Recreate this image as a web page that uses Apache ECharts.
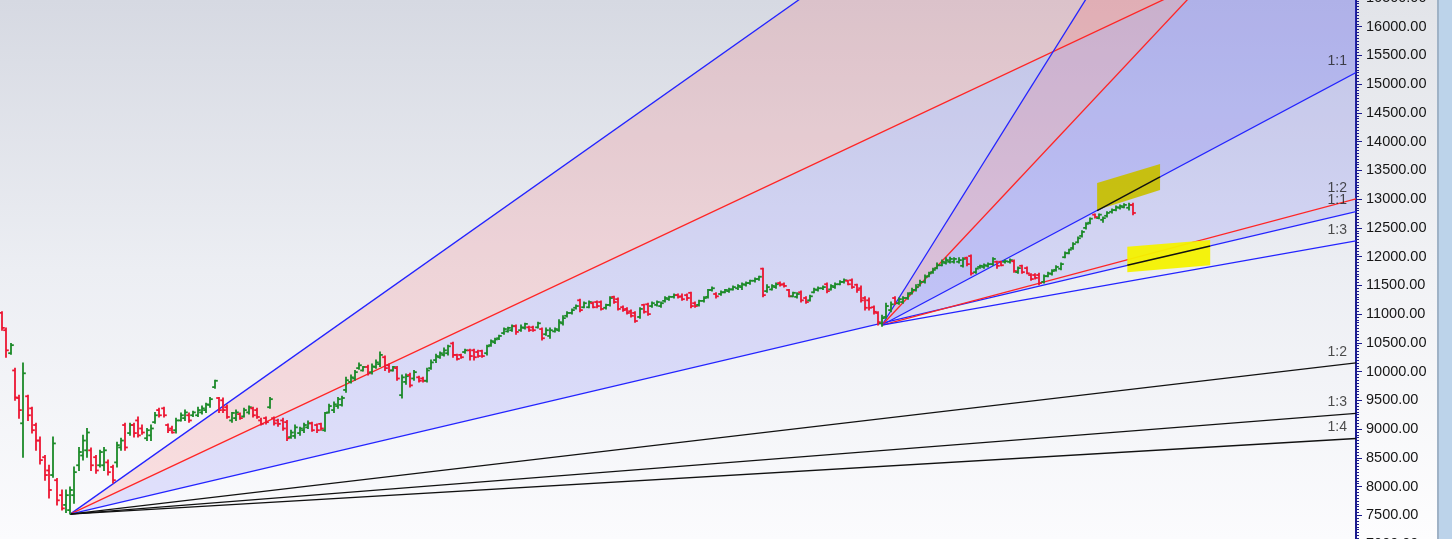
<!DOCTYPE html>
<html><head><meta charset="utf-8">
<script src="https://cdn.jsdelivr.net/npm/echarts@6/dist/echarts.min.js"></script>
<style>html,body{margin:0;padding:0;background:#fff}#c{width:1452px;height:539px}</style>
</head><body><div id="c"></div>
<script>
// ---- OHLC data (one value per trading bar) ----
const barOpen = [
11020,10720,10320,10020,9540,9100,9570,9360,9070,8800,
8510,8280,8200,8110,7850,7680,7590,7850,8370,8540,
8630,8630,8510,8370,8370,8420,8340,8420,8680,9070,
8930,9070,9150,9010,8840,8890,9120,9330,9360,9070,
9010,8980,9150,9190,9240,9240,9240,9290,9330,9420,
9730,9540,9500,9380,9150,9190,9260,9220,9290,9360,
9330,9150,9190,9380,9190,9150,9150,9120,8860,8880,
8930,8980,9030,9100,9070,9090,8980,9290,9330,9400,
9420,9680,9820,9880,10060,10020,10080,9990,10080,10130,
10250,10110,10020,10060,9590,9820,9940,9880,9900,9880,
9840,10060,10200,10250,10290,10320,10490,10290,10290,10340,
10370,10370,10340,10360,10320,10460,10510,10580,10670,10700,
10720,10790,10720,10760,10770,10770,10770,10740,10650,10620,
10700,10720,10840,10970,11020,11110,11240,11120,11120,11190,
11210,11210,11110,11160,11300,11260,11120,11090,11050,11020,
10950,11160,11170,11140,11160,11140,11230,11260,11300,11330,
11310,11330,11370,11190,11160,11230,11300,11420,11350,11350,
11380,11400,11430,11450,11470,11510,11540,11580,11610,11790,
11400,11430,11470,11540,11520,11420,11310,11300,11380,11280,
11240,11380,11420,11450,11520,11430,11470,11520,11560,11580,
11590,11510,11450,11280,11240,11120,11020,10840,10950,11070,
11280,11190,11210,11280,11370,11420,11510,11560,11660,11730,
11800,11850,11890,11910,11910,11910,11840,11980,12010,11730,
11820,11820,11840,11870,11910,11910,11910,11910,11920,11730,
11840,11800,11680,11680,11680,11560,11660,11700,11770,11790,
11990,12060,12150,12250,12360,12500,12590,12730,12670,12640,
12710,12780,12810,12850,12860,12850,12900];
const barHigh = [
11040,10760,10490,10060,9590,10150,9590,9380,9100,8860,
8540,8370,8860,8140,7940,7940,7990,8340,8680,8890,
9010,8670,8540,8630,8680,8460,8370,8770,8840,9100,
9100,9100,9210,9070,9010,9070,9290,9360,9380,9090,
9050,9190,9280,9330,9280,9310,9380,9400,9450,9550,
9850,9550,9540,9420,9290,9330,9280,9360,9400,9380,
9360,9190,9210,9550,9210,9170,9190,9150,8980,9070,
9030,9100,9140,9120,9090,9100,9290,9430,9470,9550,
9570,9900,9940,10020,10150,10090,10110,10130,10200,10340,
10270,10130,10090,10090,9940,9960,9970,10020,9920,9900,
10060,10200,10300,10340,10410,10460,10510,10300,10300,10390,
10390,10390,10370,10370,10460,10550,10580,10630,10760,10770,
10810,10810,10810,10840,10790,10790,10860,10760,10760,10760,
10760,10900,10970,11040,11090,11160,11260,11210,11230,11210,
11230,11230,11170,11300,11310,11280,11140,11110,11070,11040,
11110,11170,11190,11210,11230,11210,11300,11310,11350,11350,
11350,11350,11380,11210,11240,11300,11430,11470,11370,11400,
11430,11450,11490,11510,11540,11560,11590,11630,11660,11800,
11510,11510,11540,11560,11540,11430,11380,11370,11400,11300,
11330,11450,11470,11490,11540,11510,11540,11580,11610,11590,
11610,11520,11490,11300,11280,11140,11040,10980,11190,11210,
11300,11280,11300,11370,11450,11510,11590,11680,11730,11800,
11890,11940,11980,11990,11980,11980,11980,11990,12030,11800,
11850,11870,11890,11980,11920,11920,11940,11960,11940,11820,
11850,11820,11700,11700,11710,11680,11730,11770,11840,11890,
12080,12130,12240,12340,12450,12590,12670,12740,12740,12690,
12780,12830,12880,12900,12920,12930,12930];
const barLow = [
10720,10250,10300,9500,9190,8510,9150,8930,8630,8390,
8110,7800,8160,7680,7590,7550,7520,7710,8280,8460,
8510,8280,8230,8340,8280,8200,8060,8340,8630,8630,
8890,8860,8860,8910,8800,8800,9100,9210,9210,8940,
8930,8930,9140,9150,9120,9220,9220,9260,9290,9380,
9710,9290,9290,9190,9120,9150,9170,9210,9260,9210,
9190,9070,9090,9360,9070,9050,8980,8800,8840,8840,
8890,8940,9010,8960,8940,8980,8960,9280,9290,9360,
9400,9640,9800,9850,10040,10010,9940,9960,10060,10090,
10020,9990,10010,9850,9540,9780,9730,9850,9820,9820,
9820,10040,10160,10230,10270,10290,10250,10200,10230,10320,
10200,10200,10250,10250,10290,10440,10490,10560,10650,10690,
10700,10650,10700,10740,10700,10700,10760,10550,10630,10580,
10690,10700,10810,10950,11000,11090,11040,11110,11110,11110,
11110,11070,11090,11140,11190,11070,11050,11000,10950,10860,
10930,11020,10980,11120,11140,11120,11210,11240,11280,11280,
11240,11240,11110,11120,11140,11210,11280,11400,11280,11330,
11370,11380,11420,11430,11430,11490,11520,11560,11590,11300,
11380,11420,11450,11490,11470,11300,11300,11280,11210,11190,
11230,11370,11400,11430,11370,11420,11450,11510,11540,11510,
11450,11380,11210,11070,11070,11000,10810,10790,10930,11040,
11170,11170,11190,11260,11350,11400,11490,11540,11650,11710,
11790,11840,11870,11890,11890,11890,11820,11840,11680,11710,
11800,11800,11820,11850,11800,11840,11890,11890,11730,11710,
11710,11700,11590,11610,11510,11540,11650,11680,11750,11770,
11980,12050,12130,12240,12340,12480,12570,12670,12660,12600,
12690,12760,12800,12830,12850,12810,12730];
const barClose = [
10760,10370,10460,9550,9330,9970,9240,8980,8800,8460,
8200,7940,8750,7760,7620,7850,7940,8250,8600,8800,
8940,8370,8280,8600,8630,8250,8110,8720,8800,8680,
9070,8930,8890,8940,8980,9010,9240,9240,9240,8980,
8940,9150,9240,9290,9150,9290,9330,9360,9430,9520,
9840,9330,9330,9210,9280,9290,9190,9330,9380,9240,
9210,9090,9120,9520,9100,9090,9010,8840,8940,9030,
9010,9070,9100,8980,8980,9010,9280,9400,9430,9520,
9540,9850,9900,9990,10110,10080,9970,10090,10160,10290,
10060,10020,10080,9880,9900,9920,9760,9990,9840,9840,
10020,10160,10270,10320,10370,10440,10290,10220,10250,10370,
10270,10250,10270,10270,10440,10530,10560,10620,10740,10760,
10790,10690,10770,10830,10720,10720,10840,10580,10720,10720,
10740,10860,10930,11020,11070,11140,11070,11190,11210,11120,
11140,11090,11160,11280,11210,11090,11070,11020,10970,10880,
11090,11040,11000,11190,11210,11190,11280,11300,11330,11300,
11260,11280,11140,11140,11230,11280,11420,11450,11310,11380,
11420,11430,11470,11490,11520,11540,11580,11610,11650,11330,
11470,11490,11520,11510,11490,11310,11370,11350,11240,11210,
11310,11430,11450,11470,11400,11490,11520,11560,11590,11520,
11470,11420,11240,11110,11110,11040,10860,10930,11140,11170,
11190,11260,11280,11350,11420,11470,11560,11650,11710,11770,
11850,11910,11940,11960,11960,11940,11960,11870,11710,11790,
11840,11850,11870,11960,11840,11850,11920,11940,11750,11800,
11730,11710,11610,11630,11540,11660,11710,11750,11820,11870,
12060,12120,12220,12320,12430,12570,12660,12690,12730,12670,
12760,12810,12860,12880,12900,12900,12760];

// ---- price axis ----
const priceMin = 7000;
const priceMax = 16500;
const priceStep = 500;

// ---- Gann fans: origin [bar, price], 1x1 unit (price per bar), ratios, labels ----
const fan1Origin = [16, 7520];
const fan1Unit = 17.4;
const fan1Ratios = [3, 2, 1, 1/2, 1/3, 1/4];
const fan1Labels = ['', '', '1:1', '1:2', '1:3', '1:4'];
const fan2Origin = [207, 10810];
const fan2Unit = 39.4;
const fan2Ratios = [3, 2, 1, 1/2, 1/3];
const fan2Labels = ['', '', '1:1', '1:2', '1:3'];

// ---- hand-drawn highlight marks [bar, price] ----
const highlightUpper = [[257.6, 13280], [272.4, 13610], [272.4, 13160], [257.6, 12810]];
const highlightLower = [[264.7, 12170], [284.2, 12290], [284.2, 11850], [264.7, 11730]];
const penUpper = [[257.6, 12800], [272.4, 13387]];
const penLower = [[264.7, 11850], [284.2, 12185]];

// ================= rendering =================
const X_MIN = -0.5, X_MAX = 318.5;
const BLUE = '#2323ff', RED = '#ff2525', BLACK = '#111111';
const GREEN_BAR = '#1b8a28', RED_BAR = '#ec1632';
const PINK_FILL = 'rgba(255,60,60,0.14)', BLUE_FILL = 'rgba(60,60,255,0.135)';
const fan1Colors = [BLUE, RED, BLUE, BLACK, BLACK, BLACK];
const fan2Colors = [BLUE, RED, BLUE, RED, BLUE];

const fans = [
  {o: fan1Origin, u: fan1Unit, r: fan1Ratios, l: fan1Labels, c: fan1Colors},
  {o: fan2Origin, u: fan2Unit, r: fan2Ratios, l: fan2Labels, c: fan2Colors}
];

const lineData = [], lineColors = [], fillData = [], fillColors = [], labelData = [];
fans.forEach(f => {
  f.r.forEach((r, k) => {
    lineData.push([f.o[0], f.o[1], f.u * r]);
    lineColors.push(f.c[k]);
    if (f.l[k]) {
      labelData.push({value: [X_MAX, f.o[1] + f.u * r * (X_MAX - f.o[0])], name: f.l[k]});
    }
  });
  fillData.push([f.o[0], f.o[1], f.u * f.r[0], f.u * f.r[1]]); fillColors.push(PINK_FILL);
  fillData.push([f.o[0], f.o[1], f.u * f.r[1], f.u * f.r[2]]); fillColors.push(BLUE_FILL);
});

const ohlc = barOpen.map((o, i) => [i, o, barHigh[i], barLow[i], barClose[i]]);

const chart = echarts.init(document.getElementById('c'), null, {renderer: 'canvas'});

const bgGrad = new echarts.graphic.LinearGradient(0, 0, 0, 1, [
  {offset: 0, color: '#d6d9e2'}, {offset: 0.5, color: '#eceef3'}, {offset: 1, color: '#fbfbfd'}]);
const bgGrad2 = new echarts.graphic.LinearGradient(0, 0, 0, 1, [
  {offset: 0, color: '#e2e4e9'}, {offset: 0.5, color: '#f1f2f5'}, {offset: 1, color: '#fdfdfe'}]);

chart.setOption({
  animation: false,
  graphic: {elements: [
    {type: 'rect', z: -10, silent: true, shape: {x: 0, y: 0, width: 1356, height: 539}, style: {fill: bgGrad}},
    {type: 'rect', z: -10, silent: true, shape: {x: 1356, y: 0, width: 96, height: 539}, style: {fill: bgGrad2}},
    {type: 'rect', z: 10, silent: true, shape: {x: 1437, y: 0, width: 2, height: 539}, style: {fill: '#9fb2c6'}},
    {type: 'rect', z: 10, silent: true, shape: {x: 1439, y: 0, width: 13, height: 539}, style: {fill: '#bcd3ea'}}
  ]},
  grid: {left: 0, right: 96, top: -2, bottom: -5, containLabel: false, outerBoundsMode: 'none'},
  xAxis: {type: 'value', min: X_MIN, max: X_MAX, show: false},
  yAxis: {
    type: 'value', position: 'right', min: priceMin, max: priceMax, interval: priceStep,
    axisLine: {show: true, onZero: false, lineStyle: {color: '#1b1b8e', width: 2}},
    axisTick: {show: true, length: 6, lineStyle: {color: '#1b1b8e'}},
    minorTick: {show: true, splitNumber: 10, length: 3, lineStyle: {color: '#1b1b8e'}},
    splitLine: {show: false},
    axisLabel: {formatter: v => v.toFixed(2), fontFamily: 'Liberation Sans', fontSize: 14.5, color: '#161616', margin: 10}
  },
  series: [
    {
      type: 'custom', z: 1, clip: true, data: fillData,
      renderItem: (params, api) => {
        const ox = api.value(0), oy = api.value(1), s1 = api.value(2), s2 = api.value(3);
        const p0 = api.coord([ox, oy]);
        const p1 = api.coord([X_MAX, oy + s1 * (X_MAX - ox)]);
        const p2 = api.coord([X_MAX, oy + s2 * (X_MAX - ox)]);
        return {type: 'polygon', shape: {points: [p0, p1, p2]}, style: {fill: fillColors[params.dataIndex]}};
      }
    },
    {
      type: 'custom', z: 2, clip: true, data: lineData,
      renderItem: (params, api) => {
        const ox = api.value(0), oy = api.value(1), s = api.value(2);
        const p0 = api.coord([ox, oy]);
        const p1 = api.coord([X_MAX, oy + s * (X_MAX - ox)]);
        return {type: 'line', shape: {x1: p0[0], y1: p0[1], x2: p1[0], y2: p1[1]},
          style: {stroke: lineColors[params.dataIndex], lineWidth: 1.3}};
      }
    },
    {
      type: 'custom', z: 3, clip: true, data: ohlc, encode: {x: 0, y: [1, 2, 3, 4]},
      renderItem: (params, api) => {
        const i = api.value(0), o = api.value(1), h = api.value(2), l = api.value(3), c = api.value(4);
        const pH = api.coord([i, h]), pL = api.coord([i, l]), pO = api.coord([i, o]), pC = api.coord([i, c]);
        const x = Math.round(pH[0]);
        const col = c >= o ? GREEN_BAR : RED_BAR;
        const st = {stroke: col, lineWidth: 1.8};
        return {type: 'group', children: [
          {type: 'line', shape: {x1: x, y1: pH[1] - 0.5, x2: x, y2: pL[1] + 0.5}, style: st},
          {type: 'line', shape: {x1: x - 2.8, y1: pO[1], x2: x, y2: pO[1]}, style: st},
          {type: 'line', shape: {x1: x, y1: pC[1], x2: x + 2.8, y2: pC[1]}, style: st}
        ]};
      }
    },
    {
      type: 'custom', z: 4, clip: true, data: [0, 1],
      renderItem: (params, api) => {
        const poly = params.dataIndex === 0 ? highlightUpper : highlightLower;
        const pen = params.dataIndex === 0 ? penUpper : penLower;
        const pts = poly.map(p => api.coord(p));
        const a = api.coord(pen[0]), b = api.coord(pen[1]);
        return {type: 'group', children: [
          {type: 'polygon', shape: {points: pts},
            style: {fill: params.dataIndex === 0 ? 'rgba(200,192,0,0.93)' : 'rgba(244,242,0,0.95)'}},
          {type: 'line', shape: {x1: a[0], y1: a[1], x2: b[0], y2: b[1]}, style: {stroke: '#111', lineWidth: 1.4}}
        ]};
      }
    },
    {
      type: 'scatter', z: 5, symbolSize: 0, data: labelData, silent: true,
      label: {show: true, position: 'left', distance: 9, offset: [0, -11], formatter: '{b}',
        fontFamily: 'Liberation Sans', fontSize: 14, color: '#1e1e1e'}
    }
  ]
});
</script></body></html>
